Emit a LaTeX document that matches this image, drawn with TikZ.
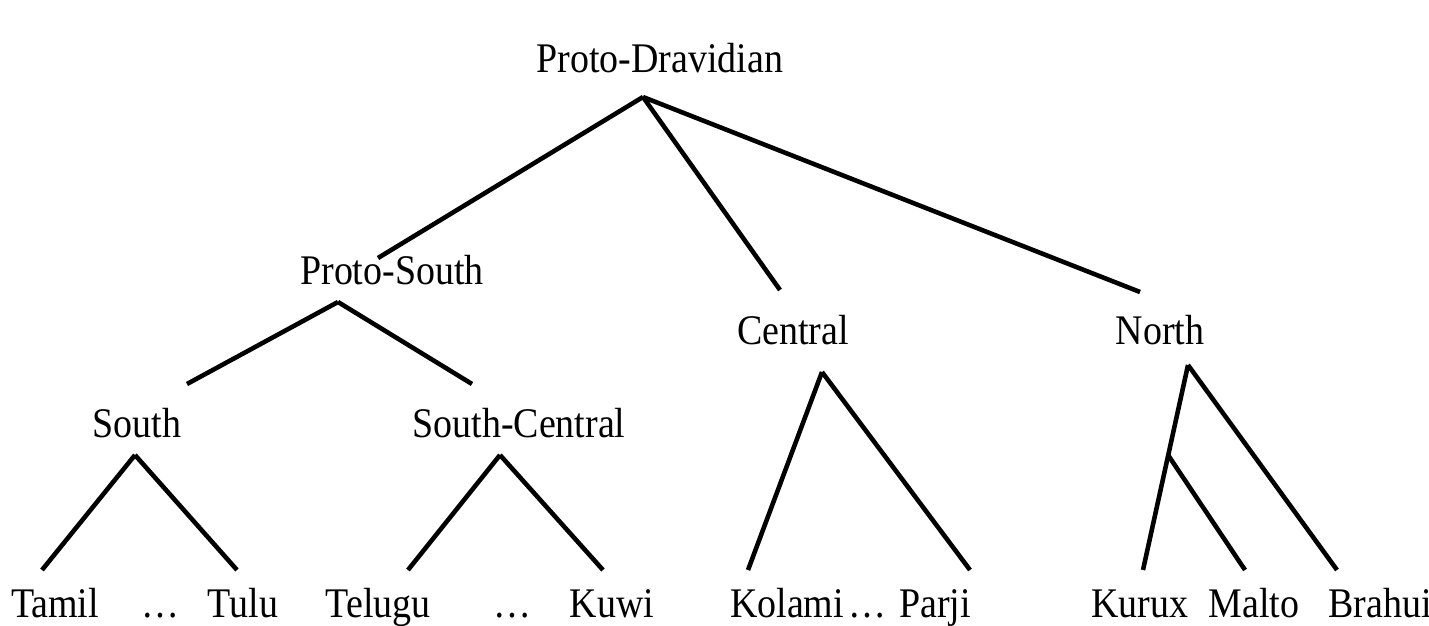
\documentclass[tikz,border=0pt]{standalone}
\usepackage{fontspec}
\setmainfont[FakeStretch=0.9]{Liberation Serif}
\begin{document}
\begin{tikzpicture}[x=0.02cm,y=-0.02cm,
  lbl/.style={font=\fontsize{24}{26}\selectfont,inner sep=0pt,anchor=base},
  br/.style={line width=2.6pt}]
\useasboundingbox (0,0) rectangle (1429,625);
\node[lbl] (pd) at (660,72) {Proto-Dravidian};
\node[lbl] (ps) at (392,284) {Proto-South};
\node[lbl] (ce) at (793,344) {Central};
\node[lbl] (no) at (1160,344) {North};
\node[lbl] (so) at (137,437) {South};
\node[lbl] (sc) at (519,437) {South-Central};
\node[lbl] (ta) at (55,617) {Tamil};
\node[lbl] (d1) at (160,617) {…};
\node[lbl] (tu) at (243,617) {Tulu};
\node[lbl] (te) at (378,617) {Telugu};
\node[lbl] (d2) at (512,617) {…};
\node[lbl] (ku) at (612,617) {Kuwi};
\node[lbl] (ko) at (787,617) {Kolami};
\node[lbl] (d3) at (867,617) {…};
\node[lbl] (pa) at (935,617) {Parji};
\node[lbl] (kr) at (1140,617) {Kurux};
\node[lbl] (ma) at (1254,617) {Malto};
\node[lbl] (bh) at (1380,617) {Brahui};
\coordinate (pdb) at (643,97);
\coordinate (psb) at (338,302);
\coordinate (sob) at (135,455);
\coordinate (scb) at (500,455);
\coordinate (ceb) at (822,372);
\coordinate (nob) at (1188,365);
\coordinate (nm) at (1168,455);
\draw[br] (pdb) -- (378,258);
\draw[br] (pdb) -- (780,290);
\draw[br] (pdb) -- (1140,292);
\draw[br] (psb) -- (187,384);
\draw[br] (psb) -- (472,384);
\draw[br] (sob) -- (42,570);
\draw[br] (sob) -- (237,570);
\draw[br] (scb) -- (408,570);
\draw[br] (scb) -- (603,570);
\draw[br] (ceb) -- (748,570);
\draw[br] (ceb) -- (970,570);
\draw[br] (nob) -- (1143,570);
\draw[br] (nob) -- (1337,570);
\draw[br] (nm) -- (1245,570);
\end{tikzpicture}
\end{document}
